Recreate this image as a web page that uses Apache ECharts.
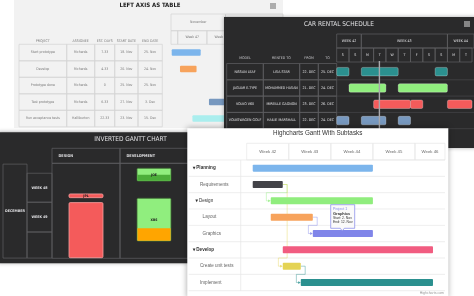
<!DOCTYPE html>
<html>
<head>
<meta charset="utf-8">
<script src="https://cdn.jsdelivr.net/npm/echarts@6/dist/echarts.min.js"></script>
<style>
html, body { margin: 0; padding: 0; background: #fff; }
#main { width: 474px; height: 296px; }
</style>
</head>
<body>
<div id="main"></div>
<script>
// ---------- panel 1 : left axis as table ----------
var p1Columns = ['PROJECT', 'ASSIGNEE', 'EST. DAYS', 'START DATE', 'END DATE'];
var p1Projects = ['Start prototype', 'Develop', 'Prototype done', 'Test prototype', 'Run acceptance tests'];
var p1Assignees = ['Richards', 'Richards', 'Richards', 'Richards', 'Halliburton'];
var p1EstDays = ['7.33', '4.33', '0', '6.33', '22.33'];
var p1StartDates = ['18. Nov', '20. Nov', '25. Nov', '27. Nov', '23. Nov'];
var p1EndDates = ['25. Nov', '24. Nov', '25. Nov', '3. Dec', '15. Dec'];
var p1StartDay = [0, 2, 7, 9, 5];      // days after 18 Nov
var p1EndDay = [7, 6, 7, 15, 27];
var p1Months = ['November', 'December'];
var p1MonthStart = [-0.2, 13];
var p1MonthEnd = [13, 44];
var p1Weeks = ['', 'Week 47', 'Week 48'];
var p1WeekStart = [-0.2, 1.45, 8.5];
var p1WeekEnd = [1.45, 8.5, 15.5];

// ---------- panel 2 : car rental schedule ----------
var p2Columns = ['MODEL', 'RENTED TO', 'FROM', 'TO'];
var p2Models = ['NISSAN LEAF', 'JAGUAR E-TYPE', 'VOLVO V60', 'VOLKSWAGEN GOLF'];
var p2RentedTo = ['LISA STAR', 'MOHAMMED HASAN', 'MIREILLE GAGNON', 'HAILIE MARSHALL'];
var p2From = ['22. DEC', '21. DEC', '23. DEC', '22. DEC'];
var p2To = ['25. DEC', '24. DEC', '26. DEC', '24. DEC'];
var p2DealRow = [0, 0, 0, 1, 1, 2, 2, 2, 3, 3, 3];
var p2DealStart = [0, 2, 8, 1, 5, 3, 6, 9, 0, 2, 5];
var p2DealEnd = [1, 5, 9, 4, 9, 6, 7, 11, 1, 4, 6];
var p2Days = ['S', 'S', 'M', 'T', 'W', 'T', 'F', 'S', 'S', 'M', 'T'];
var p2Weeks = ['WEEK 42', 'WEEK 43', 'WEEK 44'];
var p2WeekStart = [0, 2, 9];
var p2WeekEnd = [2, 9, 16];
var p2Now = 3.47;

// ---------- panel 3 : inverted gantt ----------
var p3Columns = ['DESIGN', 'DEVELOPMENT'];
var p3Month = ['DECEMBER'];
var p3MonthStart = [0.2];
var p3MonthEnd = [22.9];
var p3Weeks = ['WEEK 48', 'WEEK 49', ''];
var p3WeekStart = [2.4, 9.4, 16.6];
var p3WeekEnd = [9.4, 16.6, 22.9];
var p3TaskCol = [0, 0, 1, 1];
var p3TaskStart = [7.4, 9.5, 1.2, 8.45];
var p3TaskEnd = [8.3, 22.8, 4.3, 18.8];
var p3TaskDone = [0, 0, 0.5, 0.7];
var p3TaskLabel = ['JPL', '', 'JOE', 'XBS'];

// ---------- panel 4 : gantt with subtasks ----------
var p4Tasks = ['Planning', 'Requirements', 'Design', 'Layout', 'Graphics', 'Develop', 'Create unit tests', 'Implement'];
var p4Parent = [-1, 0, 0, 2, 2, -1, 5, 5];
var p4Start = [1, 1, 4, 4, 11, 6, 6, 9];
var p4End = [21, 6, 21, 11, 21, 31, 9, 31];
var p4Deps = [[1, 2], [1, 6], [3, 4], [6, 7]];
var p4Weeks = ['Week 42', 'Week 43', 'Week 44', 'Week 45', 'Week 46'];
var p4WeekStart = [0, 7, 14, 21, 28];
var p4WeekEnd = [7, 14, 21, 28, 33];
var p4Tip = ['Project 1', 'Graphics', 'Start: 2. Nov', 'End: 12. Nov'];

// ---------- styles ----------
var NARROW = '"Liberation Sans Narrow", "DejaVu Sans Condensed", sans-serif';
var SANS = '"Liberation Sans", "DejaVu Sans", sans-serif';
var p1Colors = ['#7cb5ec', '#f7a35c', '#90ee7e', '#7798bf', '#aaeeee'];
var p2Colors = ['#2b908f', '#90ee7e', '#f45b5b', '#7798bf'];
var p3Colors = ['#f45b5b', '#90ee7e'];
var p3Stroke = ['#f8a0a0', '#3d6b33'];
var p3Rest = ['', '', '#4cae3a', '#ffa500'];
var p4Colors = ['#7cb5ec', '#434348', '#90ed7d', '#f7a35c', '#8085e9', '#f15c80', '#e4d354', '#2b908f'];

function txt(text, x, y, size, color, opts) {
  opts = opts || {};
  return {
    type: 'text',
    style: {
      text: text, x: x, y: y,
      fill: color, fontSize: size,
      fontFamily: opts.family || NARROW,
      fontWeight: opts.weight || 'normal',
      textAlign: opts.align || 'center', align: opts.align || 'center',
      textVerticalAlign: 'middle', verticalAlign: 'middle'
    }
  };
}
function box(x, y, w, h, fill, stroke, lw) {
  return { type: 'rect', shape: { x: x, y: y, width: w, height: h },
    style: { fill: fill || 'none', stroke: stroke || 'none', lineWidth: lw || 0.7 } };
}
function hline(x1, x2, y, color) {
  return { type: 'line', shape: { x1: x1, y1: y, x2: x2, y2: y }, style: { stroke: color, lineWidth: 0.7 } };
}
function vline(x, y1, y2, color, lw) {
  return { type: 'line', shape: { x1: x, y1: y1, x2: x, y2: y2 }, style: { stroke: color, lineWidth: lw || 0.7 } };
}

// table cells: data [col, row, isHeader]
function tableSeries(gridIdx, edges, rows, header, st, z) {
  var data = [], texts = [];
  header.forEach(function (t, c) { data.push([c, 0, 1]); texts.push(t); });
  rows.forEach(function (colArr, c) {
    colArr.forEach(function (t, r) { data.push([c, r, 0]); texts.push(t); });
  });
  return {
    type: 'custom', xAxisIndex: gridIdx, yAxisIndex: gridIdx, z: z,
    encode: { x: 0, y: 1 }, data: data,
    renderItem: function (params, api) {
      var c = api.value(0), r = api.value(1), head = api.value(2);
      var cs = params.coordSys;
      var x0 = cs.x + edges[c], x1 = cs.x + edges[c + 1];
      var t = texts[params.dataIndex];
      if (head) return txt(t, (x0 + x1) / 2, cs.y - st.headGap, st.headSize, st.headColor);
      var h = api.size([0, 1])[1];
      var cy = api.coord([0, r])[1];
      return { type: 'group', children: [
        box(x0, cy - h / 2, x1 - x0, h, 'none', st.line),
        txt(t, (x0 + x1) / 2, cy, st.size, st.color, { weight: st.weight })
      ] };
    }
  };
}

// header cells above a horizontal time axis: data [start, end, 0, band]
function headerSeries(gridIdx, labels, bands, st, z) {
  var data = [], texts = [];
  labels.forEach(function (b, k) {
    b.names.forEach(function (n, i) { data.push([b.start[i], b.end[i], 0, k]); texts.push(n); });
  });
  return {
    type: 'custom', xAxisIndex: gridIdx, yAxisIndex: gridIdx, z: z,
    encode: { x: [0, 1], y: 2 }, data: data,
    renderItem: function (params, api) {
      var cs = params.coordSys;
      var k = api.value(3);
      var x0 = Math.max(api.coord([api.value(0), 0])[0], cs.x);
      var x1 = Math.min(api.coord([api.value(1), 0])[0], cs.x + cs.width);
      var y0 = cs.y + bands[k][0], y1 = cs.y + bands[k][1];
      return { type: 'group', children: [
        box(x0, y0, x1 - x0, y1 - y0, 'none', st.line),
        txt(texts[params.dataIndex], (x0 + x1) / 2, (y0 + y1) / 2, st.size, st.color, { weight: st.weight, family: st.family })
      ] };
    }
  };
}

// horizontal gantt bars: data [start, end, row]
function barSeries(gridIdx, starts, ends, rowsIdx, colorOf, h, st, z) {
  return {
    type: 'custom', xAxisIndex: gridIdx, yAxisIndex: gridIdx, z: z,
    encode: { x: [0, 1], y: 2 },
    data: starts.map(function (s, i) { return [s, ends[i], rowsIdx[i]]; }),
    renderItem: function (params, api) {
      if (api.value(1) <= api.value(0)) return null;
      var a = api.coord([api.value(0), api.value(2)]);
      var b = api.coord([api.value(1), api.value(2)]);
      return { type: 'rect', shape: { x: a[0], y: a[1] - h / 2, width: b[0] - a[0], height: h, r: st.r },
        style: { fill: colorOf(params.dataIndex, api.value(2)), stroke: st.stroke || 'none', lineWidth: 0.6 } };
    }
  };
}

var p4Idx = p4Tasks.map(function (t, i) { return i; });
var p1Idx = p1Projects.map(function (t, i) { return i; });
function levelOf(i) { var l = 0; while (p4Parent[i] >= 0) { i = p4Parent[i]; l++; } return l; }

var chart = echarts.init(document.getElementById('main'));

var option = {
  animation: false,
  grid: [
    { left: 19, top: 44.3, width: 143.3, height: 82.5 },
    { left: 171, top: 44.3, width: 112, height: 82.5 },
    { left: 226.7, top: 63.5, width: 110, height: 65.2 },
    { left: 336.7, top: 63.5, width: 137.3, height: 65.2 },
    { left: 52, top: 163.3, width: 136, height: 95 },
    { left: 240.7, top: 160, width: 204.3, height: 130.7 }
  ],
  xAxis: [
    { type: 'value', gridIndex: 0, min: 0, max: 143.3, show: false },
    { type: 'value', gridIndex: 1, min: -0.17, max: 26.88, show: false },
    { type: 'value', gridIndex: 2, min: 0, max: 110, show: false },
    { type: 'value', gridIndex: 3, min: 0, max: 11.16, show: false },
    { type: 'category', gridIndex: 4, data: p3Columns, show: false },
    { type: 'value', gridIndex: 5, min: -1, max: 33, show: false }
  ],
  yAxis: [
    { type: 'category', gridIndex: 0, data: p1Projects, inverse: true, show: false },
    { type: 'category', gridIndex: 1, data: p1Projects, inverse: true, show: false },
    { type: 'category', gridIndex: 2, data: p2Models, inverse: true, show: false },
    { type: 'category', gridIndex: 3, data: p2Models, inverse: true, show: false },
    { type: 'value', gridIndex: 4, min: 0, max: 22.95, inverse: true, show: false },
    { type: 'category', gridIndex: 5, data: p4Tasks, inverse: true, show: false }
  ],
  graphic: { elements: [
    // panel 1
    { type: 'rect', z: 0, shape: { x: 14, y: -1, width: 269, height: 129 }, style: { fill: '#f2f2f2' } },
    { type: 'text', z: 1, x: 150, y: 5.8, style: { text: 'LEFT AXIS AS TABLE', fill: '#222', fontSize: 6, fontWeight: 'bold', fontFamily: NARROW, textAlign: 'center', align: 'center', textVerticalAlign: 'middle', verticalAlign: 'middle' } },
    { type: 'rect', z: 1, shape: { x: 270, y: 3.5, width: 6, height: 1 }, style: { fill: '#666' } },
    { type: 'rect', z: 1, shape: { x: 270, y: 5.5, width: 6, height: 1 }, style: { fill: '#666' } },
    { type: 'rect', z: 1, shape: { x: 270, y: 7.5, width: 6, height: 1 }, style: { fill: '#666' } },
    // panel 2
    { type: 'rect', z: 10, shape: { x: 224, y: 17, width: 252, height: 131 }, style: { fill: '#2a2a2b', shadowBlur: 4, shadowColor: 'rgba(0,0,0,0.35)' } },
    { type: 'text', z: 11, x: 339, y: 24.3, style: { text: 'CAR RENTAL SCHEDULE', fill: '#e0e0e3', fontSize: 6.5, fontFamily: NARROW, textAlign: 'center', align: 'center', textVerticalAlign: 'middle', verticalAlign: 'middle' } },
    { type: 'rect', z: 11, shape: { x: 464, y: 21.5, width: 6, height: 1 }, style: { fill: '#e0e0e3' } },
    { type: 'rect', z: 11, shape: { x: 464, y: 23.5, width: 6, height: 1 }, style: { fill: '#e0e0e3' } },
    { type: 'rect', z: 11, shape: { x: 464, y: 25.5, width: 6, height: 1 }, style: { fill: '#e0e0e3' } },
    // panel 3
    { type: 'rect', z: 20, shape: { x: -2, y: 132.3, width: 190, height: 131 }, style: { fill: '#2a2a2b', shadowBlur: 4, shadowColor: 'rgba(0,0,0,0.35)' } },
    { type: 'text', z: 21, x: 130.5, y: 139.3, style: { text: 'INVERTED GANTT CHART', fill: '#e0e0e3', fontSize: 6.5, fontFamily: NARROW, textAlign: 'center', align: 'center', textVerticalAlign: 'middle', verticalAlign: 'middle' } },
    // panel 4
    { type: 'rect', z: 30, shape: { x: 187.3, y: 128.3, width: 261, height: 170 }, style: { fill: '#ffffff', shadowBlur: 6, shadowColor: 'rgba(0,0,0,0.35)' } },
    { type: 'text', z: 31, x: 317.7, y: 133.6, style: { text: 'Highcharts Gantt With Subtasks', fill: '#333', fontSize: 6.3, fontFamily: SANS, textAlign: 'center', align: 'center', textVerticalAlign: 'middle', verticalAlign: 'middle' } },
    { type: 'text', z: 31, x: 444, y: 293.5, style: { text: 'Highcharts.com', fill: '#999', fontSize: 3.5, fontFamily: SANS, textAlign: 'right', align: 'right', textVerticalAlign: 'middle', verticalAlign: 'middle' } },
    // tooltip
    { type: 'polygon', z: 40, shape: { points: [[330.7, 204.7], [354.7, 204.7], [354.7, 228.3], [344.3, 228.3], [342.3, 231], [340.3, 228.3], [330.7, 228.3]] },
      style: { fill: 'rgba(250,250,250,0.95)', stroke: '#8085e9', lineWidth: 0.7 } },
    { type: 'text', z: 41, x: 333, y: 208.6, style: { text: p4Tip[0], fill: '#8085e9', fontSize: 3.6, fontFamily: SANS, textAlign: 'left', align: 'left', textVerticalAlign: 'middle', verticalAlign: 'middle' } },
    { type: 'text', z: 41, x: 333, y: 213.4, style: { text: p4Tip[1], fill: '#333', fontSize: 4, fontWeight: 'bold', fontFamily: SANS, textAlign: 'left', align: 'left', textVerticalAlign: 'middle', verticalAlign: 'middle' } },
    { type: 'text', z: 41, x: 333, y: 217.8, style: { text: p4Tip[2], fill: '#333', fontSize: 3.4, fontFamily: SANS, textAlign: 'left', align: 'left', textVerticalAlign: 'middle', verticalAlign: 'middle' } },
    { type: 'text', z: 41, x: 333, y: 221.8, style: { text: p4Tip[3], fill: '#333', fontSize: 3.4, fontFamily: SANS, textAlign: 'left', align: 'left', textVerticalAlign: 'middle', verticalAlign: 'middle' } }
  ] },
  series: [
    // ----- panel 1
    tableSeries(0, [0, 47.7, 75.7, 95.7, 119, 143.3],
      [p1Projects, p1Assignees, p1EstDays, p1StartDates, p1EndDates], p1Columns,
      { headGap: 3.5, headSize: 3.6, headColor: '#7a7a7a', size: 3.5, color: '#7a7a7a', line: '#d4d4d4' }, 2),
    headerSeries(1, [
      { names: p1Months, start: p1MonthStart, end: p1MonthEnd },
      { names: p1Weeks, start: p1WeekStart, end: p1WeekEnd }
    ], [[-30.3, -13.6], [-13.6, 0]], { line: '#d4d4d4', size: 3.5, color: '#7a7a7a' }, 2),
    barSeries(1, p1StartDay, p1EndDay, p1Idx, function (i) { return p1Colors[i]; }, 6.5, { r: 1 }, 3),
    // ----- panel 2
    tableSeries(2, [0, 36.6, 73, 91.6, 110],
      [p2Models, p2RentedTo, p2From, p2To], p2Columns,
      { headGap: 5.5, headSize: 3.6, headColor: '#c8c8cc', size: 3.6, color: '#e0e0e3', line: '#606063' }, 12),
    headerSeries(3, [
      { names: p2Weeks, start: p2WeekStart, end: p2WeekEnd },
      { names: p2Days, start: p2Days.map(function (d, i) { return i; }), end: p2Days.map(function (d, i) { return i + 1; }) }
    ], [[-29.5, -15.5], [-15.5, -1.5]], { line: '#606063', size: 3.6, color: '#e0e0e3' }, 12),
    {
      type: 'custom', xAxisIndex: 3, yAxisIndex: 3, z: 12, encode: { x: 0, y: 1 },
      data: p2Models.map(function (m, i) { return [0, i]; }),
      renderItem: function (params, api) {
        var cs = params.coordSys, h = api.size([0, 1])[1];
        var cy = api.coord([0, api.value(1)])[1];
        return hline(cs.x, cs.x + cs.width, cy + h / 2, '#48484b');
      }
    },
    barSeries(3, p2DealStart, p2DealEnd, p2DealRow, function (i, r) { return p2Colors[r]; }, 8.5,
      { r: 1.5, stroke: 'rgba(255,255,255,0.45)' }, 13),
    {
      type: 'custom', xAxisIndex: 3, yAxisIndex: 3, z: 14, encode: { x: 0, y: 1 },
      data: [[p2Now, 0]],
      renderItem: function (params, api) {
        var cs = params.coordSys;
        var x = api.coord([api.value(0), 0])[0];
        return vline(x, cs.y - 2.5, cs.y + cs.height + 2, '#a8a8ac', 1.4);
      }
    },
    // ----- panel 3
    {
      type: 'custom', xAxisIndex: 4, yAxisIndex: 4, z: 22, encode: { x: 0, y: 1 },
      data: p3Columns.map(function (c, i) { return [i, 0]; }),
      renderItem: function (params, api) {
        var cs = params.coordSys, bw = api.size([1, 0])[0];
        var cx = api.coord([api.value(0), 0])[0];
        var x0 = cx - bw / 2;
        return { type: 'group', children: [
          box(x0, cs.y - 15, bw, 15, 'none', '#606063'),
          box(x0, cs.y, bw, cs.height, 'none', '#606063'),
          txt(p3Columns[params.dataIndex], x0 + 6.5, cs.y - 7, 3.8, '#e0e0e3', { align: 'left', weight: 'bold' })
        ] };
      }
    },
    {
      type: 'custom', xAxisIndex: 4, yAxisIndex: 4, z: 22, encode: { x: 0, y: [1, 2] },
      data: p3Month.map(function (m, i) { return [0, p3MonthStart[i], p3MonthEnd[i], 0]; })
        .concat(p3Weeks.map(function (w, i) { return [0, p3WeekStart[i], p3WeekEnd[i], 1]; })),
      renderItem: function (params, api) {
        var cs = params.coordSys, k = api.value(3);
        var y0 = api.coord([0, api.value(1)])[1], y1 = api.coord([0, api.value(2)])[1];
        var x0 = k === 0 ? cs.x - 49 : cs.x - 25, w = k === 0 ? 24 : 25;
        var label = k === 0 ? p3Month[params.dataIndex] : p3Weeks[params.dataIndex - p3Month.length];
        return { type: 'group', children: [
          box(x0, y0, w, y1 - y0, 'none', '#606063'),
          txt(label, x0 + w / 2, (y0 + y1) / 2, 3.6, '#e0e0e3', { weight: 'bold' })
        ] };
      }
    },
    {
      type: 'custom', xAxisIndex: 4, yAxisIndex: 4, z: 23, encode: { x: 0, y: [1, 2] },
      data: p3TaskCol.map(function (c, i) { return [c, p3TaskStart[i], p3TaskEnd[i], p3TaskDone[i]]; }),
      renderItem: function (params, api) {
        var i = params.dataIndex, col = api.value(0);
        var a = api.coord([col, api.value(1)]), b = api.coord([col, api.value(2)]);
        var w = api.size([1, 0])[0] * 0.5;
        var x = a[0] - w / 2, y0 = a[1], y1 = b[1];
        var kids = [{ type: 'rect', shape: { x: x, y: y0, width: w, height: y1 - y0, r: 1.2 },
          style: { fill: p3Colors[col], stroke: p3Stroke[col], lineWidth: 0.8 } }];
        var done = api.value(3);
        if (done > 0) {
          var ym = y0 + (y1 - y0) * done;
          kids.push({ type: 'rect', shape: { x: x + 0.4, y: ym, width: w - 0.8, height: y1 - ym - 0.4 },
            style: { fill: p3Rest[i] } });
        }
        if (p3TaskLabel[i]) kids.push(txt(p3TaskLabel[i], a[0], (y0 + y1) / 2, 3.4, '#222', { weight: 'bold' }));
        return { type: 'group', children: kids };
      }
    },
    // ----- panel 4
    headerSeries(5, [{ names: p4Weeks, start: p4WeekStart, end: p4WeekEnd }], [[-16.7, 0]],
      { line: '#e6e6e6', size: 4.3, color: '#666', family: SANS }, 32),
    {
      type: 'custom', xAxisIndex: 5, yAxisIndex: 5, z: 32, encode: { x: 0, y: 1 },
      data: p4Tasks.map(function (t, i) { return [0, i]; }),
      renderItem: function (params, api) {
        var cs = params.coordSys, h = api.size([0, 1])[1], r = api.value(1);
        var cy = api.coord([0, r])[1];
        var lvl = levelOf(r), parent = p4Parent.indexOf(r) >= 0;
        var ix = cs.x - 48 + lvl * 2.6;
        var kids = [
          hline(cs.x - 52, cs.x + cs.width, cy + h / 2, '#e6e6e6'),
          vline(cs.x, cy - h / 2, cy + h / 2, '#e6e6e6')
        ];
        if (r === 0) kids.push(hline(cs.x - 52, cs.x + cs.width, cy - h / 2, '#e6e6e6'));
        if (parent) {
          kids.push({ type: 'polygon', shape: { points: [[ix, cy - 1.3], [ix + 2.8, cy - 1.3], [ix + 1.4, cy + 1.3]] }, style: { fill: '#333' } });
          kids.push(txt(p4Tasks[r], ix + 3.6, cy, 4.6, '#333', { align: 'left', weight: lvl === 0 ? 'bold' : 'normal', family: SANS }));
        } else {
          kids.push(txt(p4Tasks[r], ix + 4.7, cy, 4.6, '#666', { align: 'left', family: SANS }));
        }
        return { type: 'group', children: kids };
      }
    },
    {
      type: 'custom', xAxisIndex: 5, yAxisIndex: 5, z: 33, encode: { x: 0, y: 1 },
      data: p4Deps,
      renderItem: function (params, api) {
        var s = api.value(0), t = api.value(1);
        var h = api.size([0, 1])[1];
        var a = api.coord([p4End[s], s]), b = api.coord([p4Start[t], t]);
        var ym = b[1] - h / 2, off = 4.4;
        var col = p4Colors[t];
        return { type: 'group', children: [
          { type: 'polyline', shape: { points: [[a[0], a[1]], [a[0] + off, a[1]], [a[0] + off, ym], [b[0] - off, ym], [b[0] - off, b[1]], [b[0] - 1.5, b[1]]] },
            style: { stroke: col, lineWidth: 0.7, opacity: 0.6, fill: 'none' } },
          { type: 'polygon', shape: { points: [[b[0] - 2.6, b[1] - 1.4], [b[0], b[1]], [b[0] - 2.6, b[1] + 1.4]] }, style: { fill: col, opacity: 0.8 } }
        ] };
      }
    },
    barSeries(5, p4Start, p4End, p4Idx, function (i) { return p4Colors[i]; }, 7, { r: 0.8 }, 34)
  ]
};

chart.setOption(option);
</script>
</body>
</html>
